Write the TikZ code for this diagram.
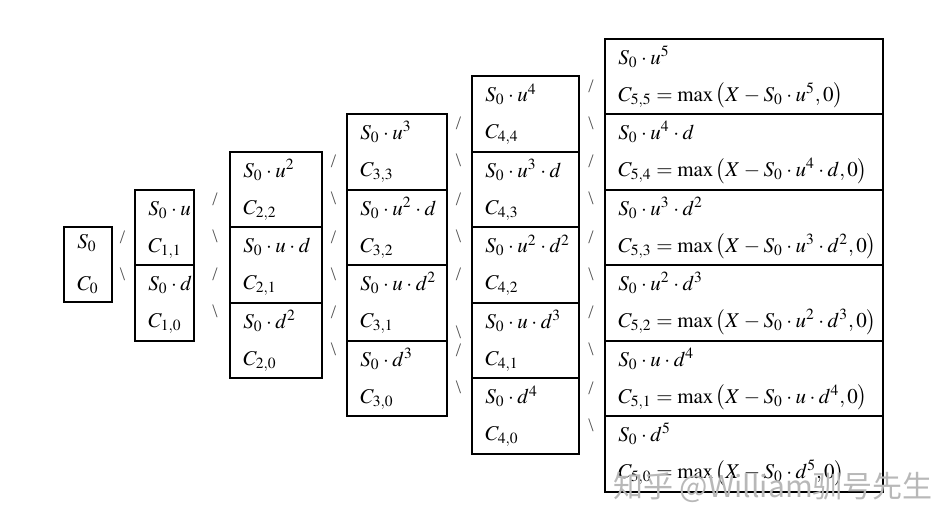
\documentclass[tikz,border=0pt]{standalone}
\usepackage{mathptmx}
\usepackage{fontspec}
\setmainfont{Liberation Serif}
\newfontfamily\cjk{Noto Sans CJK SC}
\usepackage{tikz}
\usetikzlibrary{positioning,calc}
\definecolor{slashgray}{gray}{0.3}
\definecolor{markgray}{gray}{0.72}

% stock price S_0 u^j d^i
\newcommand{\stockval}[2]{S_0\ifnum#1>0 \cdot u\ifnum#1>1 ^{#1}\fi\fi\ifnum#2>0 \cdot d\ifnum#2>1 ^{#2}\fi\fi}
\newcommand{\tightops}{\medmuskip=3mu minus 1mu\relax}

\tikzset{
  cell/.style={draw, line width=1pt, rectangle, inner sep=0pt, anchor=north west},
  val/.style={anchor=base west, inner sep=0pt, font=\fontsize{10.5}{13}\selectfont\tightops},
  slash/.style={inner sep=0pt, text=slashgray, font=\fontsize{9.5}{11}\selectfont},
  wmark/.style={text=markgray, font=\cjk\fontsize{15}{17}\selectfont}
}

\begin{document}
\begin{tikzpicture}[x=0.5pt,y=-0.5pt]
    \useasboundingbox (0,0) rectangle (952,525);

    % Period 0
    \node[cell,minimum width=24pt,minimum height=37.5pt] (c-0-0) at (63,226) {};
    \node[val] (s-0-0) at ($(c-0-0.north west)+(14,22)$) {$S_0$};
    \node[val] (v-0-0) at ($(c-0-0.north west)+(14,64)$) {$C_0$};

    % Periods 1 to 5
    \foreach \k/\xl/\xr in {1/134/193,2/229/321,3/346/446,4/471/578,5/604/882}{
        \pgfmathsetmacro\cw{(\xr-\xl)/2}
        \foreach \i in {0,...,\k}{
            \pgfmathtruncatemacro\j{\k-\i}
            \pgfmathsetmacro\ytop{264-(\k+1)*37.75+\i*75.5}
            \node[cell,minimum width=\cw pt,minimum height=37.75pt] (c-\k-\i) at (\xl,\ytop) {};
            \node[val] (s-\k-\i) at ($(c-\k-\i.north west)+(14,26.5)$) {$\stockval{\j}{\i}$};
            \node[val] (v-\k-\i) at ($(c-\k-\i.north west)+(14,63.5)$)
                {\ifnum\k=5 $C_{5,\j}=\max\,\bigl(X-\stockval{\j}{\i},0\bigr)$\else $C_{\k,\j}$\fi};
        }
    }

    % up / down marks between periods
    \foreach \k/\gx in {0/122.5,1/215,2/333.5,3/458.5,4/591}{
        \foreach \i in {0,...,\k}{
            \pgfmathsetmacro\yc{264-\k*37.75+\i*75.5}
            \pgfmathsetmacro\dn{(\k==3 && \i==2) ? 31 : 10}
            \node[slash] (up-\k-\i) at (\gx,\yc-27) {/};
            \node[slash] (dn-\k-\i) at (\gx,\yc+\dn) {\textbackslash};
        }
    }

    % watermark
    \node[wmark] (wm) at (773,487) {知乎 @William驯号先生};
\end{tikzpicture}
\end{document}
